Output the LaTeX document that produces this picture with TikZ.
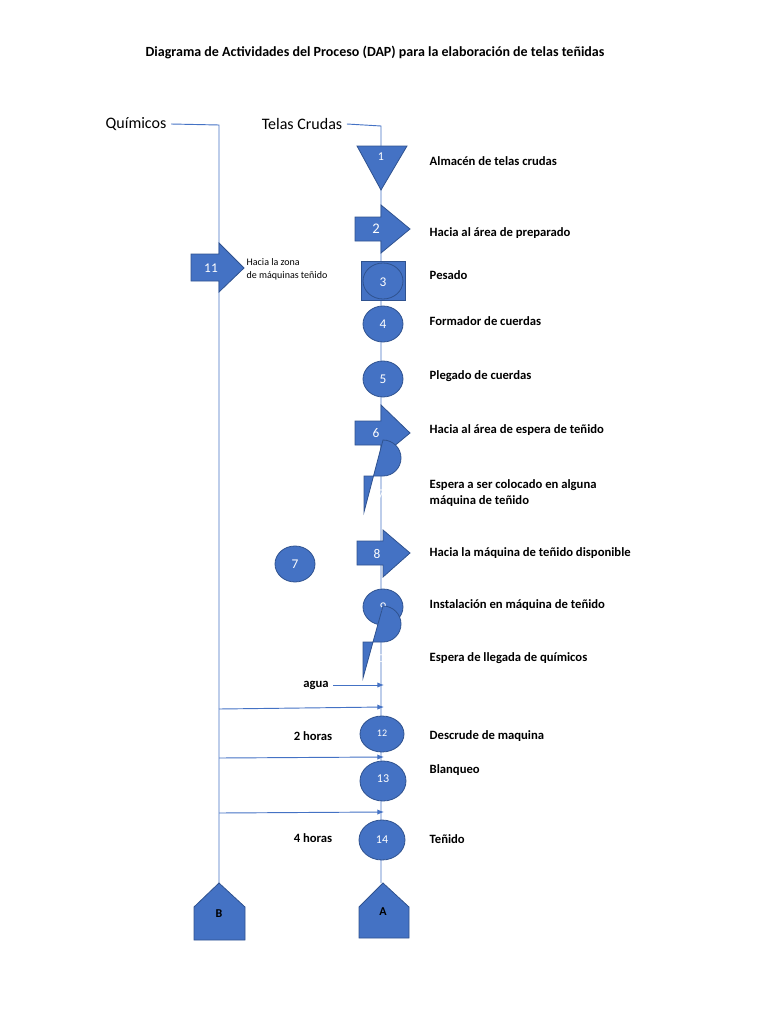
\documentclass[tikz,border=0pt]{standalone}
\usepackage{fontspec}
\setmainfont{Carlito}
\definecolor{fillb}{HTML}{4472C4}
\definecolor{edgeb}{HTML}{2F528F}
\definecolor{lineb}{HTML}{4472C4}
\begin{document}
\begin{tikzpicture}[x=0.75pt,y=-0.75pt,
  sym/.style={fill=fillb,draw=edgeb,line width=0.6pt},
  num/.style={text=white,font=\fontsize{9}{10}\selectfont},
  lab/.style={anchor=west,font=\fontsize{9.5}{11.5}\selectfont\bfseries,align=left},
  flow/.style={draw=lineb,line width=0.7pt},
  arr/.style={flow,-{Latex[length=5pt,width=4pt]}}]
\useasboundingbox (0,0) rectangle (768,1024);
\usetikzlibrary{arrows.meta}
\node[font=\fontsize{10.5}{12}\selectfont\bfseries] (title) at (375,52) {Diagrama de Actividades del Proceso (DAP) para la elaboración de telas teñidas};
\node[font=\fontsize{12}{14}\selectfont] (quim) at (136,124) {Químicos};
\node[font=\fontsize{12}{14}\selectfont] (telas) at (302,124) {Telas Crudas};
\coordinate (q1) at (219,125); \coordinate (t1) at (381,126);
\coordinate (qb) at (219,883); \coordinate (ta) at (381,883);
\draw[flow] (quim.east) -- (q1) -- (qb);
\draw[flow] (telas.east) -- (t1) -- (ta);
% 1
\draw[sym] (357,146) -- (407,146) -- (381,190) -- cycle;
\node[num] (n1) at (381,157) {1};
% 2
\draw[sym] (355,217) -- (381,217) -- (381,205) -- (410,229) -- (381,253) -- (381,241) -- (355,241) -- cycle;
\node[num,font=\fontsize{11}{12}\selectfont] (n2) at (376,229) {2};
% 11
\draw[sym] (191,254) -- (219,254) -- (219,243) -- (244,268) -- (219,292) -- (219,281) -- (191,281) -- cycle;
\node[num,font=\fontsize{10}{12}\selectfont] (n11) at (211,268) {11};
% 3
\draw[sym] (361,261) rectangle (405,300);
\draw[sym] (383,281) ellipse (20 and 18);
\node[num,font=\fontsize{10}{12}\selectfont] (n3) at (383,282) {3};
% 4,5
\draw[sym] (383,324) ellipse (20 and 18); \node[num,font=\fontsize{10}{12}\selectfont] (n4) at (383,324) {4};
\draw[sym] (383,379) ellipse (20 and 18); \node[num,font=\fontsize{10}{12}\selectfont] (n5) at (383,379) {5};
% 6
\draw[sym] (355,421) -- (381,421) -- (381,405) -- (410,433) -- (381,457) -- (381,445) -- (355,445) -- cycle;
\node[num,font=\fontsize{10}{12}\selectfont] (n6) at (376,433) {6};
% 7 delay
\draw[sym] (364,476) -- (383,476) arc (90:-90:18) -- (364,512) -- cycle;
\node[num,font=\fontsize{10}{12}\selectfont] (n7) at (381,494) {7};
% 8
\draw[sym] (357,541) -- (383,541) -- (383,530) -- (410,553) -- (383,577) -- (383,565) -- (357,565) -- cycle;
\node[num,font=\fontsize{10}{12}\selectfont] (n8) at (377,554) {8};
% loose 7
\draw[sym] (295,564) ellipse (20 and 18); \node[num,font=\fontsize{10}{12}\selectfont] (n7b) at (295,564) {7};
% 9
\draw[sym] (383,607) ellipse (20 and 18); \node[num,font=\fontsize{10}{12}\selectfont] (n9) at (383,607) {9};
% 10
\draw[sym] (363,642) -- (383,642) arc (90:-90:18) -- (363,678) -- cycle;
\node[num] (n10) at (378,659) {10};
% arrows
\node[font=\fontsize{9.5}{11}\selectfont\bfseries] (agua) at (316,685) {agua};
\coordinate (a1) at (384,685);
\draw[arr] (agua.east) -- (a1);
\coordinate (l1) at (219,709); \coordinate (r1) at (384,707);
\coordinate (l2) at (219,758); \coordinate (r2) at (384,757);
\coordinate (l3) at (219,813); \coordinate (r3) at (384,812);
\draw[arr] (l1) -- (r1); \draw[arr] (l2) -- (r2); \draw[arr] (l3) -- (r3);
% 12,13,14
\draw[sym] (382,734) ellipse (22 and 18); \node[num,font=\fontsize{7.5}{9}\selectfont] (n12) at (382,733) {12};
\draw[sym] (383,781) ellipse (23 and 20); \node[num] (n13) at (383,779) {13};
\draw[sym] (382,840) ellipse (23 and 20); \node[num] (n14) at (382,840) {14};
\node[font=\fontsize{9.5}{11}\selectfont\bfseries] (h2) at (313,736) {2 horas};
\node[font=\fontsize{9.5}{11}\selectfont\bfseries] (h4) at (313,838) {4 horas};
% A, B
\draw[sym] (383,883) -- (409,907) -- (409,938) -- (359,938) -- (359,907) -- cycle;
\node[font=\fontsize{9}{10}\selectfont\bfseries] (A) at (383,912) {A};
\draw[sym] (219,883) -- (245,907) -- (245,940) -- (194,940) -- (194,907) -- cycle;
\node[font=\fontsize{9}{10}\selectfont\bfseries] (B) at (219,914) {B};
% labels
\node[lab] (L1) at (425,161) {Almacén de telas crudas};
\node[lab] (L2) at (425,233) {Hacia al área de preparado};
\node[anchor=west,font=\fontsize{7.5}{9.5}\selectfont,align=left] (L11) at (242,269) {Hacia la zona\\de máquinas teñido};
\node[lab] (L3) at (425,275) {Pesado};
\node[lab] (L4) at (425,321) {Formador de cuerdas};
\node[lab] (L5) at (425,376) {Plegado de cuerdas};
\node[lab] (L6) at (425,430) {Hacia al área de espera de teñido};
\node[lab] (L7) at (425,493) {Espera a ser colocado en alguna\\máquina de teñido};
\node[lab] (L8) at (425,553) {Hacia la máquina de teñido disponible};
\node[lab] (L9) at (425,605) {Instalación en máquina de teñido};
\node[lab] (L10) at (425,658) {Espera de llegada de químicos};
\node[lab] (L12) at (425,736) {Descrude de maquina};
\node[lab] (L13) at (425,770) {Blanqueo};
\node[lab] (L14) at (425,839) {Teñido};
\end{tikzpicture}
\end{document}
